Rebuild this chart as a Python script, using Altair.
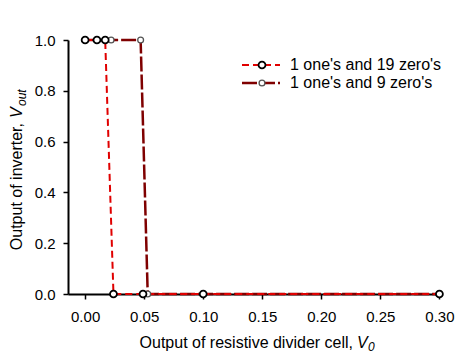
import altair as alt
import pandas as pd

# Series: 1 one's and 19 zero's
s1_x = [0.0, 0.01, 0.017, 0.024, 0.049, 0.1, 0.3]
s1_y = [1, 1, 1, 0, 0, 0, 0]
# Series: 1 one's and 9 zero's
s2_x = [0.0, 0.01, 0.017, 0.022, 0.047, 0.053, 0.1, 0.3]
s2_y = [1, 1, 1, 1, 1, 0, 0, 0]

labels = ["1 one's and 19 zero's", "1 one's and 9 zero's"]
x_ticks = [0.0, 0.05, 0.10, 0.15, 0.20, 0.25, 0.30]
y_ticks = [0.0, 0.2, 0.4, 0.6, 0.8, 1.0]

RED = "#e00000"
DARK = "#7f0000"
FONT = "Liberation Sans"

d1 = pd.DataFrame({"x": s1_x, "y": s1_y})
d2 = pd.DataFrame({"x": s2_x, "y": s2_y})

xs = alt.Scale(domain=[-0.0145, 0.3005], nice=False, zero=False)
ys = alt.Scale(domain=[0, 1], nice=False)

xenc = alt.X("x:Q", scale=xs, axis=alt.Axis(values=x_ticks, format=".2f", title=None, labelFlush=False))
yenc = alt.Y("y:Q", scale=ys, axis=alt.Axis(values=y_ticks, format=".1f", title=None, labelFlush=False))

line2 = alt.Chart(d2).mark_line(color=DARK, strokeWidth=2.5, strokeDash=[15, 3], clip=False).encode(x=xenc, y=yenc)
line1 = alt.Chart(d1).mark_line(color=RED, strokeWidth=2, strokeDash=[7, 4], clip=False).encode(x=xenc, y=yenc)
pts2 = alt.Chart(d2).mark_point(filled=True, fill="white", stroke="#555555", strokeWidth=1.3, size=34, opacity=1, clip=False).encode(x=xenc, y=yenc)
pts1 = alt.Chart(d1).mark_point(filled=True, fill="white", stroke="black", strokeWidth=1.8, size=48, opacity=1, clip=False).encode(x=xenc, y=yenc)

one = pd.DataFrame({"a": [0]})

# legend
leg = []
leg_y = [25, 43]
leg.append(alt.Chart(one).mark_rule(color=RED, strokeWidth=2, strokeDash=[7, 4]).encode(
    x=alt.value(174), x2=alt.value(212), y=alt.value(leg_y[0])))
leg.append(alt.Chart(one).mark_point(filled=True, fill="white", stroke="black", strokeWidth=1.8, size=48, opacity=1).encode(
    x=alt.value(194), y=alt.value(leg_y[0])))
leg.append(alt.Chart(one).mark_rule(color=DARK, strokeWidth=2.5, strokeDash=[15, 3]).encode(
    x=alt.value(174), x2=alt.value(212), y=alt.value(leg_y[1])))
leg.append(alt.Chart(one).mark_point(filled=True, fill="white", stroke="#555555", strokeWidth=1.3, size=34, opacity=1).encode(
    x=alt.value(194), y=alt.value(leg_y[1])))
for lab, yy in zip(labels, leg_y):
    leg.append(alt.Chart(one).mark_text(text=lab, font=FONT, fontSize=16, align="left", baseline="middle", color="black").encode(
        x=alt.value(222), y=alt.value(yy)))

# axis titles with italic parts
titles = [
    alt.Chart(one).mark_text(text="Output of resistive divider cell,", font=FONT, fontSize=16, align="right",
                             baseline="alphabetic", color="black").encode(x=alt.value(285), y=alt.value(308)),
    alt.Chart(one).mark_text(text="V", font=FONT, fontSize=16, fontStyle="italic", align="left",
                             baseline="alphabetic", color="black").encode(x=alt.value(289), y=alt.value(308)),
    alt.Chart(one).mark_text(text="0", font=FONT, fontSize=12, fontStyle="italic", align="left",
                             baseline="alphabetic", color="black").encode(x=alt.value(300), y=alt.value(311)),
    alt.Chart(one).mark_text(text="Output of inverter,", font=FONT, fontSize=16, align="right", angle=270,
                             baseline="alphabetic", color="black").encode(x=alt.value(-46), y=alt.value(83)),
    alt.Chart(one).mark_text(text="V", font=FONT, fontSize=16, fontStyle="italic", align="left", angle=270,
                             baseline="alphabetic", color="black").encode(x=alt.value(-46), y=alt.value(78)),
    alt.Chart(one).mark_text(text="out", font=FONT, fontSize=12, fontStyle="italic", align="left", angle=270,
                             baseline="alphabetic", color="black").encode(x=alt.value(-42), y=alt.value(66)),
]

chart = alt.layer(line2, line1, pts2, pts1, *leg, *titles).properties(
    width=372, height=254,
    autosize=alt.AutoSizeParams(type="none"),
    padding={"left": 60, "top": 32, "right": 26, "bottom": 60},
).configure_view(stroke=None).configure_axis(
    grid=False, domainColor="black", domainWidth=2, tickColor="black", tickWidth=1.5, tickSize=5,
    labelFont=FONT, labelFontSize=15, labelColor="black", labelPadding=8,
).configure_axisX(labelPadding=10).configure_axisY(labelPadding=8)

chart.save("out.html", embed_options={"renderer": "svg", "actions": False})
